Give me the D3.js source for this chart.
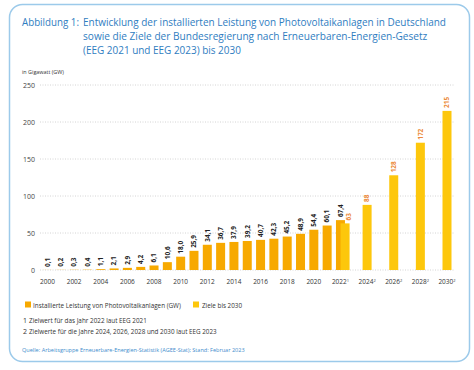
<!DOCTYPE html>
<html><head><meta charset="utf-8">
<script src="https://cdn.jsdelivr.net/npm/d3@7/dist/d3.min.js"></script>
<style>body{margin:0;background:#fff}svg{display:block}</style>
</head><body>
<script>
// ---- data ----
const installedYears = [2000,2001,2002,2003,2004,2005,2006,2007,2008,2009,2010,2011,2012,2013,2014,2015,2016,2017,2018,2019,2020,2021,2022];
const installedValues = [0.1,0.2,0.3,0.4,1.1,2.1,2.9,4.2,6.1,10.6,18.0,25.9,34.1,36.7,37.9,39.2,40.7,42.3,45.2,48.9,54.4,60.1,67.4];
const targetYears = [2022,2024,2026,2028,2030];
const targetValues = [63,88,128,172,215];
const yTicks = [0,50,100,150,200,250];
const xTickYears = [2000,2002,2004,2006,2008,2010,2012,2014,2016,2018,2020,2022,2024,2026,2028,2030];
const xTickNotes = ["","","","","","","","","","","","1","2","2","2","2"];
const titleLines = ["Entwicklung der installierten Leistung von Photovoltaikanlagen in Deutschland",
  "sowie die Ziele der Bundesregierung nach Erneuerbaren-Energien-Gesetz",
  "(EEG 2021 und EEG 2023) bis 2030"];
const legendLabels = ["Installierte Leistung von Photovoltaikanlagen (GW)", "Ziele bis 2030"];
const footnotes = ["Zielwert für das Jahr 2022 laut EEG 2021", "Zielwerte für die Jahre 2024, 2026, 2028 und 2030 laut EEG 2023"];

const FONT = "'Liberation Sans Narrow','Open Sans',sans-serif";
const cInst = "#f7a900", cTarget = "#fdc70c", cTargetLbl = "#ec8a3a", cBlue = "#2f7dbf";
const fmtI = v => v.toFixed(1).replace(".", ",");
const fmtT = v => String(v).replace(".", ",");

const W = 474, H = 370;
const svg = d3.select("body").append("svg").attr("width", W).attr("height", H)
  .style("font-family", FONT);

// draw text at (x,y) horizontally scaled so its width equals tw
function fitText(x0, y0, tw, str, size, fill, weight) {
  const t = svg.append("text").attr("x", 0).attr("y", 0).attr("font-size", size)
    .attr("fill", fill).attr("font-weight", weight || "normal").text(str);
  const w = t.node().getComputedTextLength();
  t.attr("transform", `translate(${x0},${y0}) scale(${tw / w},1)`);
  return t;
}

svg.append("rect").attr("x", 9.5).attr("y", 4.5).attr("width", 460).attr("height", 357)
  .attr("rx", 13).attr("fill", "#fff").attr("stroke", "#9ccaea").attr("stroke-width", 1.5);

// title
fitText(22, 26, 57, "Abbildung 1:", 11, cBlue);
const tLens = [363, 345, 158];
titleLines.forEach((t, i) => fitText(83, 26 + i * 14, tLens[i], t, 11, cBlue));
fitText(22, 74, 42, "in Gigawatt (GW)", 6, "#333");

// scales
const x = d3.scaleLinear().domain([2000, 2030]).range([47.5, 447]);
const y = d3.scaleLinear().domain([0, 250]).range([270, 85]);
const bw = 9, overlap = 4.6;

// grid + y labels
svg.append("g").selectAll("line").data(yTicks).join("line")
  .attr("x1", 40).attr("x2", 455).attr("y1", d => y(d)).attr("y2", d => y(d))
  .attr("stroke", "#c9c9c9").attr("stroke-width", 0.8).attr("stroke-dasharray", "1,1.5");
const yAxis = d3.axisLeft(y).tickValues(yTicks).tickSize(0).tickPadding(0);
svg.append("g").attr("transform", "translate(35,0)").call(yAxis)
  .call(s => s.select(".domain").remove())
  .call(s => s.selectAll("text").attr("font-size", 7).attr("fill", "#444").attr("font-family", FONT));

const inst = installedYears.map((yr, i) => ({ yr, v: installedValues[i] }));
const targ = targetYears.map((yr, i) => ({ yr, v: targetValues[i], off: yr === 2022 ? overlap : 0 }));

// bars
svg.append("g").selectAll("rect").data(inst).join("rect")
  .attr("x", d => x(d.yr) - bw / 2).attr("y", d => y(d.v))
  .attr("width", bw).attr("height", d => y(0) - y(d.v)).attr("fill", cInst);
svg.append("g").selectAll("rect").data(targ).join("rect")
  .attr("x", d => x(d.yr) + d.off - bw / 2).attr("y", d => y(d.v))
  .attr("width", bw).attr("height", d => y(0) - y(d.v)).attr("fill", cTarget);

// value labels
svg.append("g").selectAll("text").data(inst).join("text")
  .attr("transform", d => `translate(${x(d.yr)},${y(d.v) - 3}) rotate(-90)`)
  .attr("dy", "0.35em").attr("font-size", 6.4).attr("font-weight", "bold").attr("fill", "#222")
  .text(d => fmtI(d.v));
svg.append("g").selectAll("text").data(targ).join("text")
  .attr("transform", d => `translate(${x(d.yr) + d.off * 1.8},${y(d.v) - 3}) rotate(-90)`)
  .attr("dy", "0.35em").attr("font-size", 6.4).attr("font-weight", "bold").attr("fill", cTargetLbl)
  .text(d => fmtT(d.v));

// x axis labels
const xl = svg.append("g").selectAll("text").data(xTickYears).join("text")
  .attr("x", d => x(d)).attr("y", 284).attr("text-anchor", "middle")
  .attr("font-size", 6.5).attr("fill", "#333");
xl.append("tspan").text(d => d);
xl.append("tspan").attr("dy", -2.5).attr("font-size", 4).text((d, i) => xTickNotes[i]);

// legend
[[25, cInst, 33, 148], [193, cTarget, 202, 40]].forEach((L, i) => {
  svg.append("rect").attr("x", L[0]).attr("y", 301.5).attr("width", 6).attr("height", 6).attr("fill", L[1]);
  fitText(L[2], 307.5, L[3], legendLabels[i], 7.2, "#333");
});
// footnotes
const fLens = [118, 188];
footnotes.forEach((t, i) => {
  svg.append("text").attr("x", 23).attr("y", 323 + i * 10.5).attr("font-size", 7).attr("fill", "#333").text(i + 1);
  fitText(29, 323 + i * 10.5, fLens[i], t, 7, "#333");
});
fitText(22, 351.5, 223, "Quelle: Arbeitsgruppe Erneuerbare-Energien-Statistik (AGEE-Stat); Stand: Februar 2023", 5.6, "#3d8ccc");
</script>
</body></html>
